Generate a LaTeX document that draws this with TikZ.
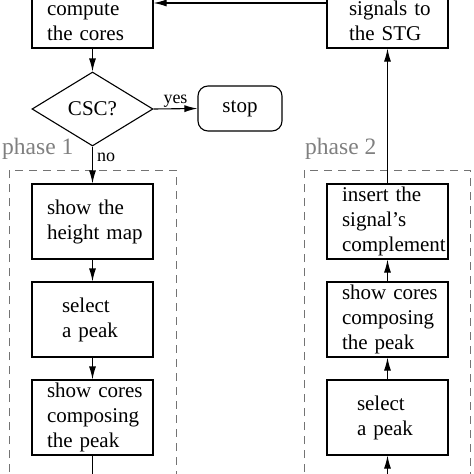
\documentclass[tikz,border=0pt]{standalone}
\usepackage{fontspec}
\setmainfont{Liberation Serif}
\usetikzlibrary{shapes.geometric,arrows.meta}
\hbadness=10000 \hfuzz=100pt
\begin{document}
\begin{tikzpicture}[x=1pt,y=-1pt,
  box/.style={draw, line width=1.1pt, minimum width=121pt, minimum height=75pt, inner ysep=0pt, inner xsep=15pt, text width=91pt, align=left, font=\fontsize{21}{25}\selectfont},
  selbox/.style={box, inner xsep=30pt, text width=61pt},
  dec/.style={draw, line width=1.1pt, shape=diamond, minimum width=121pt, minimum height=74pt, inner sep=0pt, font=\fontsize{21}{25}\selectfont},
  term/.style={draw, line width=1.1pt, rounded corners=10pt, minimum width=84pt, minimum height=45pt, inner sep=0pt, font=\fontsize{21}{25}\selectfont},
  arr/.style={line width=1.1pt, -{Latex[length=13pt,width=7pt]}},
  lbl/.style={font=\fontsize{18}{21}\selectfont, inner sep=1pt},
  phase/.style={text=black!50, font=\fontsize{23.5}{27}\selectfont, inner sep=0pt, anchor=base west},
  frame/.style={draw=black!55, line width=1pt, dash pattern=on 8pt off 6pt}
]
\useasboundingbox (0,0) rectangle (474,474);
\clip (0,0) rectangle (474,474);
\fill[white] (0,0) rectangle (474,474);

% frames
\draw[frame] (9,500) -- (9,170) -- (176,170) -- (176,500);
\draw[frame] (304,500) -- (304,170) -- (470,170) -- (470,500);
\node[phase] (p1) at (2,154) {phase 1};
\node[phase] (p2) at (305,154) {phase 2};

% left column
\node[box] (comp) at (92.5,10.5) {\phantom{x}\\compute\\the~cores};
\node[dec] (csc) at (92.5,109) {CSC?};
\node[term] (stop) at (240,108.5) {stop};
\node[box] (h1) at (92.5,221.5) {show~the\\height~map};
\node[selbox] (s1) at (92.5,319.5) {select\\a~peak};
\node[box] (c1) at (92.5,417.5) {show~cores\\composing\\the~peak};
\coordinate (d1) at (92.5,500);

% right column
\node[box, inner xsep=22pt, text width=77pt] (sig) at (387.5,10.5) {\phantom{x}\\signals~to\\the~STG};
\node[box] (ins) at (387.5,221.5) {insert~the\\signal's\\complement};
\node[box] (c2) at (387.5,319.5) {show~cores\\composing\\the~peak};
\node[selbox] (s2) at (387.5,417.5) {select\\a~peak};
\coordinate (u2) at (387.5,500);

% connectors
\draw[arr] (comp.south) -- (csc.north);
\draw[arr] (csc.east) -- node[lbl, midway, above] {yes} (stop.west);
\draw[arr] (csc.south) -- node[lbl, pos=0.3, right=3pt] {no} (h1.north);
\draw[arr] (h1.south) -- (s1.north);
\draw[arr] (s1.south) -- (c1.north);
\draw[arr] (c1.south) -- (d1);
\draw[arr] (u2) -- (s2.south);
\draw[arr] (s2.north) -- (c2.south);
\draw[arr] (c2.north) -- (ins.south);
\draw[arr] (ins.north) -- (sig.south);
\draw[arr] ([yshift=7.5pt]sig.west) -- ([yshift=7.5pt]comp.east);
\end{tikzpicture}
\end{document}
